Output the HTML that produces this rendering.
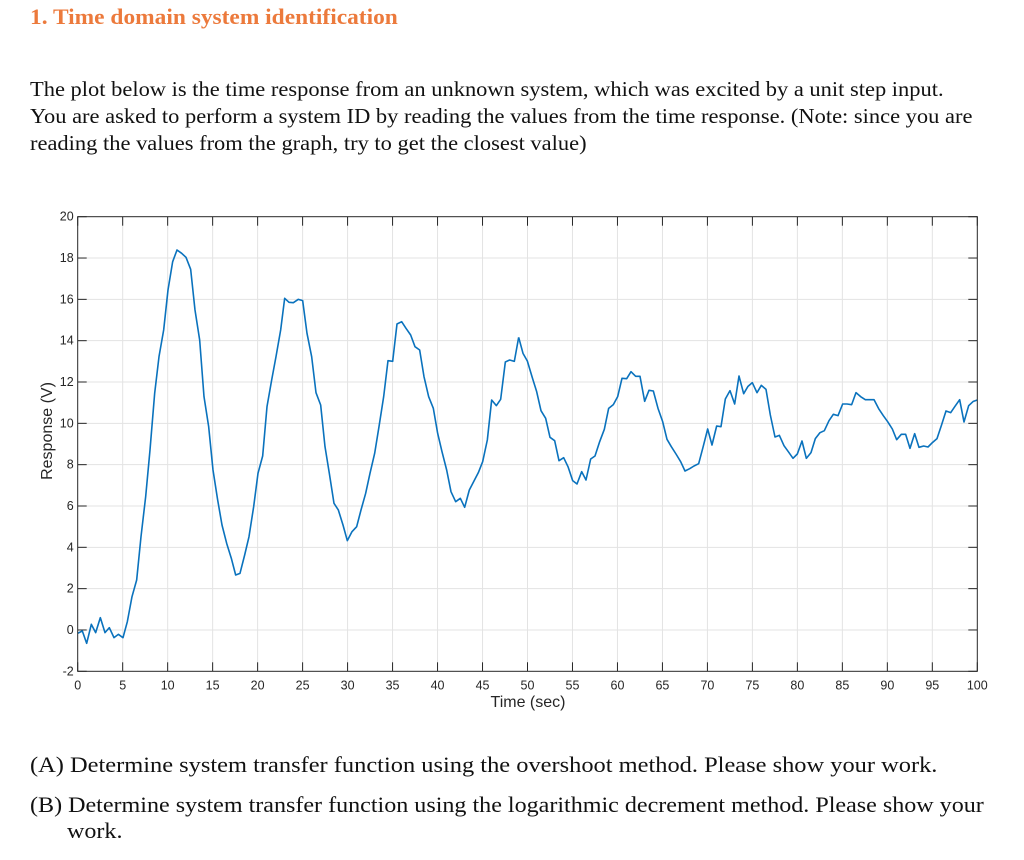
<!DOCTYPE html>
<html><head><meta charset="utf-8"><style>
body{margin:0;background:#fff;width:1024px;height:860px;overflow:hidden;position:relative;font-family:"Liberation Serif",serif;}
.t{position:absolute;white-space:nowrap;transform-origin:0 0;}
</style></head><body>
<div class="t" style="left:30px;top:4px;font-size:22px;font-weight:bold;color:#ec7a3c;transform:scaleX(1.064);">1. Time domain system identification</div>
<div class="t" style="left:30px;top:76px;font-size:21px;line-height:27px;color:#111;transform:scaleX(1.07);">The plot below is the time response from an unknown system, which was excited by a unit step input.<br>You are asked to perform a system ID by reading the values from the time response. (Note: since you are<br>reading the values from the graph, try to get the closest value)</div>
<div class="t" style="left:30px;top:752px;font-size:22px;color:#111;transform:scaleX(1.11);">(A) Determine system transfer function using the overshoot method. Please show your work.</div>
<div class="t" style="left:30px;top:792px;font-size:22px;color:#111;transform:scaleX(1.094);">(B) Determine system transfer function using the logarithmic decrement method. Please show your</div>
<div class="t" style="left:67px;top:818px;font-size:22px;color:#111;transform:scaleX(1.094);">work.</div>
<svg style="position:absolute;left:0;top:0" width="1024" height="860" font-family="Liberation Sans, sans-serif" font-size="12.5" fill="#262626">
<g stroke="#e3e3e3" stroke-width="1" id="grid"></g>
<g id="ax"></g>
<g transform="translate(40,200) scale(0.33333)" fill="none" stroke="#0a72bd" stroke-width="1.6" stroke-linejoin="round">
<polyline vector-effect="non-scaling-stroke" points="113,1300 127,1293 140,1330 154,1273 167,1298 181,1253 195,1298 208,1283 222,1313 235,1303 249,1313 262,1265 276,1190 290,1140 303,1010 317,890 330,750 344,580 357,470 371,390 384,270 398,185 411,150 425,160 438,172 452,208 465,330 479,420 492,590 506,680 519,810 533,900 546,975 560,1030 574,1075 587,1125 600,1120 614,1065 627,1010 641,920 654,820 668,768 681,620 695,540 708,470 722,390 734,295 747,307 760,308 775,298 788,302 801,400 815,470 828,578 842,615 855,740 868,820 882,910 895,930 909,975 922,1022 936,995 950,980 963,930 977,880 990,820 1004,760 1017,680 1031,590 1044,482 1058,484 1071,372 1085,365 1098,385 1112,405 1125,440 1139,450 1152,530 1166,590 1180,625 1193,700 1206,755 1220,810 1233,875 1247,905 1261,895 1274,922 1288,870 1301,845 1315,818 1328,785 1342,720 1355,600 1369,617 1382,598 1396,486 1409,480 1423,484 1436,412"/>
</g>
<g transform="translate(500,200) scale(0.33333)" fill="none" stroke="#0a72bd" stroke-width="1.6" stroke-linejoin="round">
<polyline vector-effect="non-scaling-stroke" points="56,412 69,460 82,483 96,530 110,575 123,632 137,655 150,712 164,722 177,782 191,773 204,800 218,842 231,852 245,815 258,840 272,777 285,768 299,725 313,688 326,625 340,614 353,590 366,535 380,536 393,515 407,529 420,529 434,604 447,571 460,573 474,625 488,665 501,718 514,740 528,762 542,785 555,813 569,806 582,798 596,791 609,742 623,687 636,735 650,678 663,680 676,597 690,572 704,612 717,528 731,581 744,559 757,548 771,578 784,556 798,568 811,645 825,711 838,706 852,737 865,755 879,775 892,762 906,723 919,775 933,758 946,716 960,698 973,692 987,662 1000,643 1014,647 1028,612 1041,612 1055,614 1068,578 1082,590 1096,599 1109,599 1122,599 1136,626 1150,647 1163,665 1177,687 1190,719 1204,703 1217,703 1230,745 1244,701 1257,742 1271,738 1284,741 1298,727 1311,716 1325,674 1338,633 1352,638 1365,619 1379,599 1392,666 1406,617 1420,604 1432,600"/>
</g>
<rect x="77.7" y="216.7" width="899.6" height="454.6" fill="none" stroke="#262626" stroke-width="1"/>
<text x="528" y="707" text-anchor="middle" font-size="16">Time (sec)</text>
<text transform="translate(52,431) rotate(-90)" text-anchor="middle" font-size="16">Response (V)</text>
</svg>
<script>
var g=document.getElementById('grid'),a=document.getElementById('ax'),ns='http://www.w3.org/2000/svg';
function el(p,t,at){var e=document.createElementNS(ns,t);for(var k in at)e.setAttribute(k,at[k]);p.appendChild(e);return e;}
var x0=77.7,x1=977.3,y0=216.7,y1=671.3;
for(var i=0;i<=20;i++){var x=x0+(x1-x0)*i/20;
 if(i>0&&i<20)el(g,'line',{x1:x,y1:y0,x2:x,y2:y1});
 el(a,'line',{x1:x,y1:y1,x2:x,y2:y1-9,stroke:'#262626'});el(a,'line',{x1:x,y1:y0,x2:x,y2:y0+9,stroke:'#262626'});
 var t=el(a,'text',{x:x,y:y1+18,'text-anchor':'middle'});t.textContent=i*5;}
for(var j=0;j<=11;j++){var v=-2+2*j,y=y1-(y1-y0)*j/11;
 if(j>0&&j<11)el(g,'line',{x1:x0,y1:y,x2:x1,y2:y});
 el(a,'line',{x1:x0,y1:y,x2:x0+9,y2:y,stroke:'#262626'});el(a,'line',{x1:x1,y1:y,x2:x1-9,y2:y,stroke:'#262626'});
 var t=el(a,'text',{x:x0-4,y:y+4,'text-anchor':'end'});t.textContent=v;}
</script>
</body></html>
